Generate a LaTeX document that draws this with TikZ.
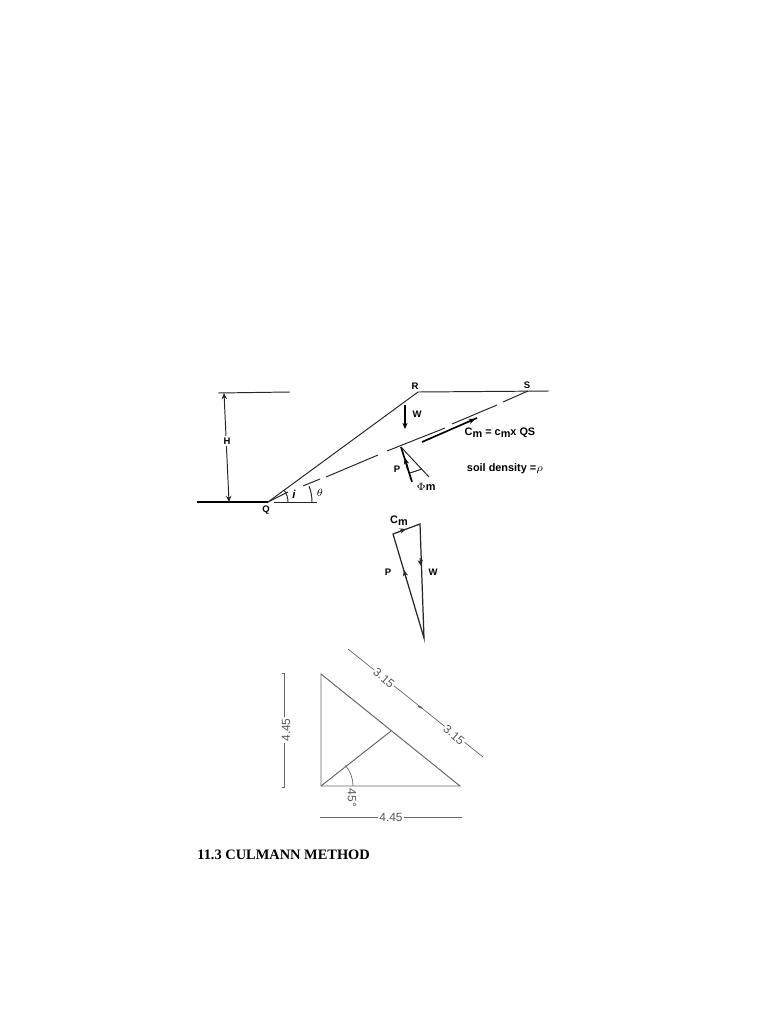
\documentclass[tikz,border=0pt]{standalone}
\usepackage{fontspec}
\setmainfont{Liberation Sans}
\newfontfamily\capfont{Liberation Serif}
\usetikzlibrary{arrows.meta}
\newcommand\subm{\raisebox{-0.3ex}{m}}
\tikzset{
  lab/.style={inner sep=0pt,font=\fontsize{5.4}{6}\selectfont\bfseries},
  biglab/.style={inner sep=0pt,font=\fontsize{6.2}{7}\selectfont\bfseries},
  dimlab/.style={inner sep=0.6pt,fill=white,text=black!65,font=\fontsize{6.8}{7}\selectfont},
  ln/.style={line width=0.55pt,black!85},
  thick ln/.style={line width=0.95pt,black},
  gry/.style={line width=0.4pt,black!60},
  tip/.style={-{Stealth[length=3.5pt,width=3pt]}}
}
\begin{document}
\begin{tikzpicture}[x=0.02cm,y=-0.02cm]
\useasboundingbox [fill=white] (0,0) rectangle (768,1024);
% slope
\coordinate (Q) at (268,502);
\coordinate (R) at (418,392);
\coordinate (S) at (528,391);
\coordinate (A) at (401,447);
\draw [ln] (218,393) -- (290,392);
\draw [thick ln] (197,502) -- (Q);
\draw [ln] (274,502) -- (317,502);
\draw [ln] (Q) -- (R) -- (549,391);
\draw [ln,<->,>={Stealth[length=3.5pt,width=3pt]}] (224,393) -- (229,502);
\node [lab,fill=white,inner sep=1pt] (H) at (227,441) {H};
% slip plane
\draw [ln] (Q) -- (288,492);
\draw [ln] (303,486) -- (320,479);
\draw [ln] (326,477) -- (378,455);
\draw [ln] (387,451) -- (445,428);
\draw [ln] (452,424) -- (497,405);
\draw [ln] (503,402) -- (S);
\draw [ln] (288,502) arc (0:-36:20);
\draw [ln] (312,502) arc (0:-21:44);
\draw [thick ln] (422,442) -- (477,418);
\draw [thick ln,tip] (470,421) -- (475,419);
\draw [thick ln,tip] (405,405) -- (405,429);
\draw [thick ln] (A) -- (412,482);
\draw [thick ln,tip] (408,470) -- (405,458);
\draw [ln] (A) -- (429,477);
\draw [ln] (410,473) -- (422,469);
\node [lab] (Ql) at (266,510) {Q};
\node [biglab,font=\fontsize{6.5}{7}\selectfont\itshape\bfseries] (il) at (294,494) {i};
\node [biglab] (tl) at (320,493) {$\theta$};
\node [lab] (Rl) at (415,386) {R};
\node [lab] (Sl) at (527,385) {S};
\node [lab] (Wl) at (417,414) {W};
\node [lab] (Pl) at (397,469) {P};
\node [biglab] (Cl) at (500,433) {C\subm{} = c\subm{}x QS};
\node [biglab] (dl) at (505,469) {soil density =$\rho$};
\node [biglab] (fl) at (426,487) {$\Phi$m};
% force triangle
\coordinate (T) at (420,524);
\coordinate (L) at (393,534);
\coordinate (B) at (424,638);
\draw [ln,line width=0.7pt] (T) -- (B) -- (L) -- cycle;
\draw [ln,tip] (420,558) -- (421,566);
\draw [ln,tip] (406,578) -- (404,570);
\draw [ln,tip] (400,531) -- (406,529);
\node [biglab] (Cm) at (399,521) {C\subm};
\node [lab] (Pf) at (388,572) {P};
\node [lab] (Wf) at (433,572) {W};
% geometry triangle
\coordinate (a) at (321,674);
\coordinate (b) at (321,786);
\coordinate (c) at (460,786);
\coordinate (d) at (391,731);
\draw [gry,line width=0.55pt] (a) -- (b) -- (c) -- cycle;
\draw [gry,line width=0.55pt] (b) -- (d);
\draw [gry] (353,786) arc (0:-40:32);
\draw [gry] (284,673) -- (284,787);
\draw [gry] (282,673) -- (285,673);
\draw [gry] (282,787) -- (285,787);
\node [dimlab,rotate=90] (v) at (286,730) {4.45};
\draw [gry] (320,817) -- (462,817);
\node [dimlab] (h) at (391,817) {4.45};
\draw [gry] (348,649) -- (483,757);
\draw [gry,line width=0.9pt] (418,706) -- (422,708);
\node [dimlab,rotate=-40] (d1) at (384,678) {3.15};
\node [dimlab,rotate=-40] (d2) at (454,735) {3.15};
\node [dimlab,rotate=-90,fill=none] (an) at (352,798) {45°};
\node [anchor=west,inner sep=0pt,font=\fontsize{8.2}{9}\selectfont\capfont\bfseries] (cap) at (197,855) {11.3 CULMANN METHOD};
\end{tikzpicture}
\end{document}
